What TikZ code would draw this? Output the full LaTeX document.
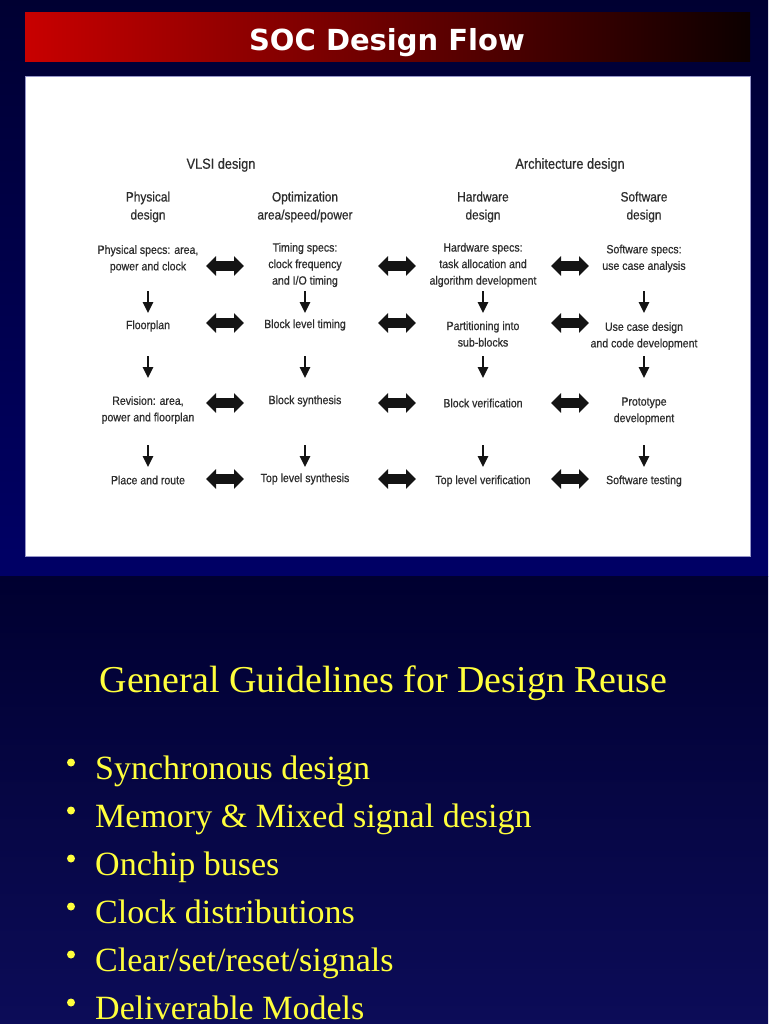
\documentclass[tikz,border=0pt]{standalone}
\usepackage{fontspec}
\setmainfont{Liberation Serif}
\newfontfamily\diafont[FakeStretch=0.88,FakeBold=0.6]{Liberation Sans}
\newfontfamily\ttlfont{DejaVu Sans}
\usetikzlibrary{arrows.meta}
\definecolor{navyTop}{RGB}{0,0,50}
\definecolor{navyMid}{RGB}{0,0,102}
\definecolor{navyLow}{RGB}{0,0,48}
\definecolor{navyEnd}{RGB}{12,12,88}
\definecolor{barRed}{RGB}{200,0,0}
\definecolor{barDark}{RGB}{12,0,0}
\definecolor{diatext}{RGB}{45,45,45}
\definecolor{arrowc}{RGB}{20,20,20}
\definecolor{yel}{RGB}{255,255,60}
\definecolor{panelEdge}{RGB}{150,150,200}
\begin{document}
\begin{tikzpicture}[x=1pt,y=-1pt,
  lbl/.style={font=\diafont\fontsize{12}{16.5}\selectfont, text=diatext, align=center, inner sep=0pt},
  colhdr/.style={font=\diafont\fontsize{13.5}{18}\selectfont, text=diatext, align=center, inner sep=0pt},
  grphdr/.style={font=\diafont\fontsize{14.5}{18}\selectfont, text=diatext, align=center, inner sep=0pt},
  dblarrow/.style={line width=9.5pt, draw=arrowc, arrows={Triangle[length=10pt,width=19pt]-Triangle[length=10pt,width=19pt]}},
  dnarrow/.style={line width=2.5pt, draw=arrowc, arrows={-Triangle[length=11pt,width=10pt]}},
  bultext/.style={font=\fontsize{34}{40}\selectfont, text=yel, anchor=base west, inner sep=0pt},
  buldot/.style={circle, fill=yel, minimum size=8pt, inner sep=0pt}
]
\useasboundingbox (0,0) rectangle (768,1024);
% backgrounds
\shade[top color=navyTop, bottom color=navyMid] (0,0) rectangle (768,576);
\shade[top color=navyLow, bottom color=navyEnd] (0,576) rectangle (768,1024);
% title bar
\shade[left color=barRed, right color=barDark] (25,13) rectangle (750,62);
\node[font=\ttlfont\bfseries\fontsize{29}{32}\selectfont, text=white, anchor=base, inner sep=0pt] (title) at (387,50.5) {SOC Design Flow};
% white panel
\fill[white] (25,76) rectangle (750,556);
\draw[panelEdge, line width=0.8pt] (25,76) rectangle (750,556);

% group headers
\node[grphdr] (vlsi) at (221,165) {VLSI design};
\node[grphdr] (arch) at (570,165) {Architecture design};
% column headers
\node[colhdr] (h1) at (148,207) {Physical\\design};
\node[colhdr] (h2) at (305,207) {Optimization\\area/speed/power};
\node[colhdr] (h3) at (483,207) {Hardware\\design};
\node[colhdr] (h4) at (644,207) {Software\\design};
% row 1
\node[lbl] (a1) at (148,259) {Physical specs: area,\\power and clock};
\node[lbl] (a2) at (305,265) {Timing specs:\\clock frequency\\and I/O timing};
\node[lbl] (a3) at (483,265) {Hardware specs:\\task allocation and\\algorithm development};
\node[lbl] (a4) at (644,258.5) {Software specs:\\use case analysis};
% row 2
\node[lbl] (b1) at (148,326) {Floorplan};
\node[lbl] (b2) at (305,325) {Block level timing};
\node[lbl] (b3) at (483,334) {Partitioning into\\sub-blocks};
\node[lbl] (b4) at (644,336) {Use case design\\and code development};
% row 3
\node[lbl] (c1) at (148,410) {Revision: area,\\power and floorplan};
\node[lbl] (c2) at (305,401) {Block synthesis};
\node[lbl] (c3) at (483,403) {Block verification};
\node[lbl] (c4) at (644,411) {Prototype\\development};
% row 4
\node[lbl] (d1) at (148,480) {Place and route};
\node[lbl] (d2) at (305,479) {Top level synthesis};
\node[lbl] (d3) at (483,481) {Top level verification};
\node[lbl] (d4) at (644,481) {Software testing};

% horizontal double arrows
\foreach \r/\yy in {1/266,2/323,3/403,4/479}{
  \foreach \c/\xx in {1/225,2/397,3/570}{
    \coordinate (L\r\c) at (\xx-19,\yy);
    \coordinate (R\r\c) at (\xx+19,\yy);
    \draw[dblarrow] (L\r\c) -- (R\r\c);
  }
}
% vertical arrows
\foreach \c/\xx in {1/148,2/305,3/483,4/644}{
  \coordinate (U1\c) at (\xx,291);
  \coordinate (V1\c) at (\xx,313);
  \coordinate (U2\c) at (\xx,356);
  \coordinate (V2\c) at (\xx,378);
  \coordinate (U3\c) at (\xx,445);
  \coordinate (V3\c) at (\xx,467);
  \draw[dnarrow] (U1\c) -- (V1\c);
  \draw[dnarrow] (U2\c) -- (V2\c);
  \draw[dnarrow] (U3\c) -- (V3\c);
}

% lower slide
\node[font=\fontsize{38}{44}\selectfont, text=yel, anchor=base, inner sep=0pt] (gtitle) at (383.5,692) {General Guidelines for Design Reuse};
\node[buldot] (p1) at (71,762.5) {};
\node[bultext] (t1) at (95,779) {Synchronous design};
\node[buldot] (p2) at (71,810.5) {};
\node[bultext] (t2) at (95,827) {Memory \& Mixed signal design};
\node[buldot] (p3) at (71,858.5) {};
\node[bultext] (t3) at (95,875) {Onchip buses};
\node[buldot] (p4) at (71,906.5) {};
\node[bultext] (t4) at (95,923) {Clock distributions};
\node[buldot] (p5) at (71,954.5) {};
\node[bultext] (t5) at (95,971) {Clear/set/reset/signals};
\node[buldot] (p6) at (71,1002.5) {};
\node[bultext] (t6) at (95,1019) {Deliverable Models};
\end{tikzpicture}
\end{document}
